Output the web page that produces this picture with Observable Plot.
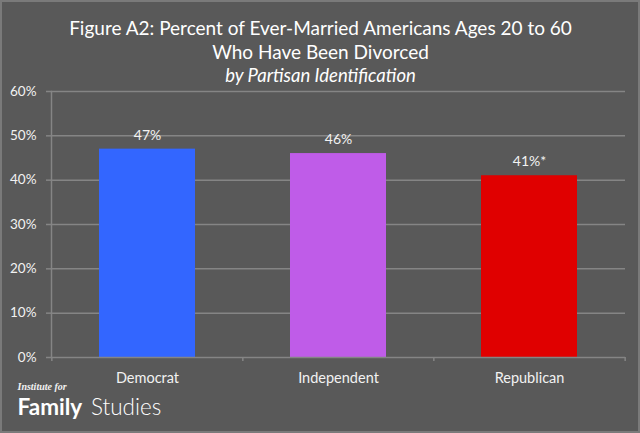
<!DOCTYPE html>
<html>
<head>
<meta charset="utf-8">
<script src="https://cdn.jsdelivr.net/npm/d3@7"></script>
<script src="https://cdn.jsdelivr.net/npm/@observablehq/plot@0.6"></script>
<style>
  html, body { margin: 0; padding: 0; background: #595959; }
  #chart svg { display: block; outline: 2px solid #7a7a7a; outline-offset: -2px; }
</style>
</head>
<body>
<div id="chart"></div>
<script>
// Share of ever-married Americans ages 20–60 who have been divorced
const parties = ["Democrat", "Independent", "Republican"];
const divorcedPct = [47, 46, 41];
const labelSuffix = ["", "", "*"];
const barColors = ["#3366ff", "#bf5ce8", "#e00000"];
const yTicks = [0, 10, 20, 30, 40, 50, 60];

const titleLine1 = ["Figure A2: Percent of Ever-Married Americans Ages 20 to 60"];
const titleLine2 = ["Who Have Been Divorced"];
const subtitle = ["by Partisan Identification"];
const logoSmall = ["Institute for"];
const logoBold = ["Family"];
const logoLight = ["Studies"];

const rows = parties.map((p, i) => ({
  party: p,
  value: divorcedPct[i],
  label: `${divorcedPct[i]}%${labelSuffix[i]}`
}));

const W = 640, H = 433;
const M = {top: 91, right: 15, bottom: 76, left: 51};
const step = (W - M.left - M.right) / parties.length;
// shift from the plot-area centre to the centre of the whole figure
const centerShift = W / 2 - (M.left + (W - M.left - M.right) / 2);

const font = "Lato, 'Open Sans', sans-serif";
const ink = "#f2f2f2";
const gridColor = "#858585";

const headerText = (data, dy, size, extra = {}) =>
  Plot.text(data, {
    frameAnchor: "top", dx: centerShift, dy, text: d => d,
    fill: "#ffffff", fontSize: size, ...extra
  });

const chart = Plot.plot({
  width: W,
  height: H,
  marginTop: M.top,
  marginRight: M.right,
  marginBottom: M.bottom,
  marginLeft: M.left,
  style: {background: "#595959", color: ink, fontFamily: font},
  x: {domain: parties, paddingInner: 0.5, paddingOuter: 0.25, axis: null},
  y: {domain: [0, 60], axis: null},
  color: {domain: parties, range: barColors},
  marks: [
    // horizontal gridlines
    Plot.ruleY(yTicks.slice(1), {stroke: gridColor, strokeWidth: 1.5}),
    // y axis with outward ticks
    Plot.axisY({
      ticks: yTicks, tickSize: 5, tickPadding: 10, tickFormat: d => `${d}%`, label: null,
      stroke: gridColor, fill: ink, fontSize: 13.5, strokeWidth: 1.5
    }),
    Plot.frame({anchor: "left", stroke: gridColor, strokeWidth: 1.5}),
    // bars
    Plot.barY(rows, {x: "party", y: "value", fill: "party"}),
    // baseline and category boundary ticks
    Plot.ruleY([0], {stroke: gridColor, strokeWidth: 1.5}),
    Plot.ruleX(parties, {x: d => d, y1: 0, y2: 0, dx: -step / 2, insetBottom: -4, stroke: gridColor, strokeWidth: 1.5}),
    Plot.ruleX(parties.slice(-1), {x: d => d, y1: 0, y2: 0, dx: step / 2, insetBottom: -4, stroke: gridColor, strokeWidth: 1.5}),
    // category labels
    Plot.text(parties, {x: d => d, frameAnchor: "bottom", dy: 25, text: d => d, fill: ink, fontSize: 14.5}),
    // value labels
    Plot.text(rows, {x: "party", y: "value", text: "label", dy: -14, fill: ink, fontSize: 14}),
    // title block, centred on the full width
    headerText(titleLine1, -70.5, 19, {letterSpacing: "-0.3px"}),
    headerText(titleLine2, -46.5, 19, {letterSpacing: "-0.3px"}),
    headerText(subtitle, -22.5, 18.5, {fontStyle: "italic"}),
    // logo
    Plot.text(logoSmall, {frameAnchor: "bottom-left", dx: -34, dy: 32, text: d => d, textAnchor: "start",
      fill: ink, fontSize: 10, fontStyle: "italic", fontWeight: "bold", fontFamily: "'Liberation Serif', serif"}),
    Plot.text(logoBold, {frameAnchor: "bottom-left", dx: -34, dy: 57, text: d => d, textAnchor: "start",
      fill: "#ffffff", fontSize: 22.5, fontWeight: "bold", fontFamily: font}),
    Plot.text(logoLight, {frameAnchor: "bottom-left", dx: 39.5, dy: 57, text: d => d, textAnchor: "start",
      fill: "#ffffff", fontSize: 22.5, fontWeight: 300, fontFamily: font})
  ]
});

document.getElementById("chart").append(chart);
</script>
</body>
</html>
